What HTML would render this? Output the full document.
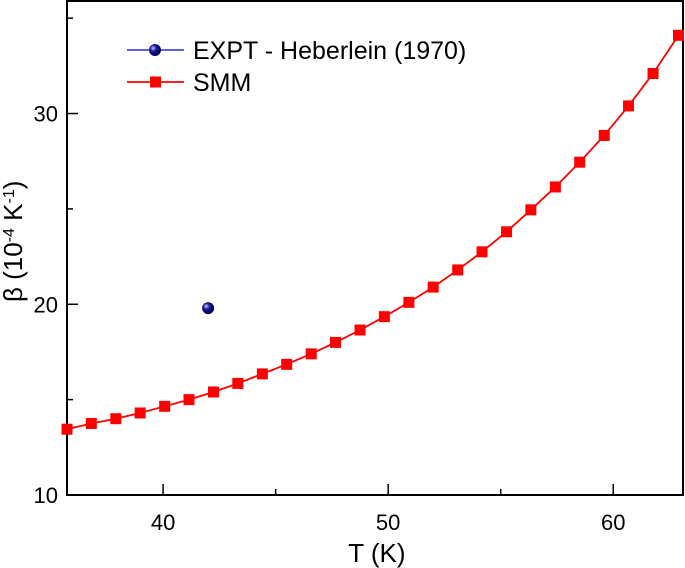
<!DOCTYPE html>
<html><head><meta charset="utf-8"><style>
html,body{margin:0;padding:0;background:#fff;}
svg{display:block;font-family:"Liberation Sans",Arial,sans-serif;}
</style></head><body>
<svg id="chart" width="685" height="568"></svg>
<script>
const smmT=[35.73,36.81,37.9,38.98,40.07,41.15,42.24,43.32,44.41,45.49,46.58,47.66,48.75,49.83,50.92,52.0,53.09,54.17,55.26,56.34,57.43,58.51,59.6,60.68,61.77,62.9];
const smmBeta=[13.45,13.75,14.0,14.3,14.65,15.0,15.4,15.85,16.35,16.85,17.4,18.0,18.65,19.35,20.1,20.9,21.8,22.75,23.8,24.95,26.15,27.45,28.85,30.4,32.1,34.1];
const exptT=[42.0];
const exptBeta=[19.8];
const xTicks=[40,50,60];
const yTicks=[10,20,30];
const xMin=35.73,xMax=63.1,yMin=10,yMax=35.9;
const L=67,R=683,T=1,B=495;
const sx=v=>L+(v-xMin)/(xMax-xMin)*(R-L);
const sy=v=>B-(v-yMin)/(yMax-yMin)*(B-T);
const NS="http://www.w3.org/2000/svg";
const svg=document.getElementById('chart');
function mk(tag,attrs,parent){const e=document.createElementNS(NS,tag);for(const k in attrs)e.setAttribute(k,attrs[k]);(parent||svg).appendChild(e);return e;}
const defs=mk('defs',{});
const g=mk('radialGradient',{id:'ball',cx:'35%',cy:'35%',r:'65%'},defs);
mk('stop',{offset:'0%','stop-color':'#c8c8ff'},g);mk('stop',{offset:'40%','stop-color':'#1a1a9a'},g);mk('stop',{offset:'100%','stop-color':'#000050'},g);
const frame=mk('rect',{x:L,y:T,width:R-L,height:B-T,fill:'none',stroke:'#000','stroke-width':2});


for(let v=40;v<=60;v+=5){const major=xTicks.includes(v);const t=mk('line',{x1:sx(v),x2:sx(v),y1:B,y2:B-(major?11:6),stroke:'#000','stroke-width':1.5});

}
xTicks.forEach(v=>{const t=mk('text',{x:sx(v),y:B+35,'text-anchor':'middle','font-size':22});t.textContent=v;

});
for(let v=10;v<=35;v+=5){const major=yTicks.includes(v);const t=mk('line',{x1:L,x2:L+(major?11:6),y1:sy(v),y2:sy(v),stroke:'#000','stroke-width':1.5});

}
yTicks.forEach(v=>{const t=mk('text',{x:L-9,y:sy(v)+8,'text-anchor':'end','font-size':22});t.textContent=v;

});
const xt=mk('text',{x:sx(49.5),y:562,'text-anchor':'middle','font-size':26});xt.textContent='T (K)';


const yt=mk('text',{x:0,y:0,'text-anchor':'middle','font-size':26,transform:`translate(22,${sy(23.3)}) rotate(-90)`});
yt.innerHTML='β (10<tspan baseline-shift="super" font-size="16">-4</tspan> K<tspan baseline-shift="super" font-size="16">-1</tspan>)';


const pl=mk('polyline',{points:smmT.map((t,i)=>sx(t)+','+sy(smmBeta[i])).join(' '),fill:'none',stroke:'#f00','stroke-width':1.8});


smmT.forEach((t,i)=>{const r=mk('rect',{x:sx(t)-5.5,y:sy(smmBeta[i])-5.5,width:11,height:11,fill:'#f00'});

});
exptT.forEach((t,i)=>{const c=mk('circle',{cx:sx(t),cy:sy(exptBeta[i]),r:6,fill:'url(#ball)'});

});
const lg=mk('g',{});


mk('line',{x1:127,x2:184,y1:50,y2:50,stroke:'#00c','stroke-width':1.2},lg);
mk('circle',{cx:155,cy:50,r:6,fill:'url(#ball)'},lg);
const l1=mk('text',{x:193,y:59,'font-size':25},lg);l1.textContent='EXPT - Heberlein (1970)';


mk('line',{x1:127,x2:184,y1:82,y2:82,stroke:'#f00','stroke-width':1.8},lg);
mk('rect',{x:150,y:76.5,width:11,height:11,fill:'#f00'},lg);
const l2=mk('text',{x:193,y:91,'font-size':25},lg);l2.textContent='SMM';


</script>
</body></html>
